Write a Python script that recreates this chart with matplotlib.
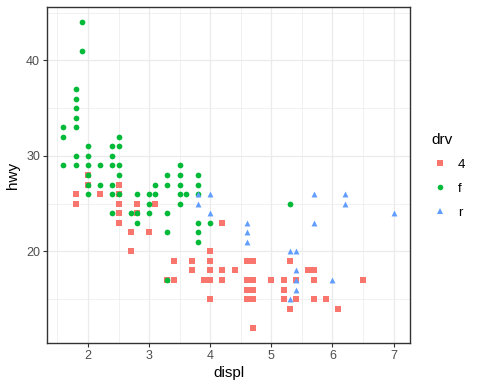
import matplotlib
matplotlib.use("Agg")
import matplotlib.pyplot as plt
from matplotlib.ticker import MultipleLocator, FixedLocator
from matplotlib.lines import Line2D

# ---- data ----
drv_levels = ["4", "f", "r"]

displ_4 = [1.8, 1.8, 2.0, 2.0, 2.2, 2.5, 2.5, 2.5, 2.5, 2.5, 2.7, 2.7, 2.8, 2.8, 3.0,
           3.1, 3.3, 3.4, 3.4, 3.7, 3.7, 3.9, 4.0, 4.0, 4.0, 4.0, 4.0, 4.2, 4.2, 4.2,
           4.4, 4.6, 4.6, 4.6, 4.6, 4.7, 4.7, 4.7, 4.7, 4.7, 5.0, 5.2, 5.2, 5.2, 5.3,
           5.3, 5.4, 5.4, 5.6, 5.7, 5.7, 5.7, 5.9, 6.1, 6.5]
hwy_4 = [26, 25, 28, 27, 26, 27, 26, 25, 24, 23, 22, 20, 25, 24, 22,
         25, 17, 19, 17, 19, 18, 17, 20, 19, 18, 17, 15, 23, 18, 17,
         18, 19, 17, 16, 15, 19, 17, 16, 15, 12, 17, 17, 16, 15, 19,
         14, 17, 15, 18, 18, 17, 15, 15, 14, 17]

displ_f = [1.6, 1.6, 1.6,
           1.8, 1.8, 1.8, 1.8, 1.8, 1.8, 1.8,
           1.9, 1.9,
           2.0, 2.0, 2.0, 2.0, 2.0, 2.0,
           2.2, 2.2,
           2.4, 2.4, 2.4, 2.4, 2.4, 2.4,
           2.5, 2.5, 2.5, 2.5, 2.5,
           2.7,
           2.8, 2.8, 2.8,
           3.0, 3.0, 3.0,
           3.1, 3.1,
           3.3, 3.3, 3.3, 3.3, 3.3,
           3.5, 3.5, 3.5, 3.5, 3.5,
           3.6,
           3.8, 3.8, 3.8, 3.8, 3.8, 3.8,
           4.0,
           5.3]
hwy_f = [33, 32, 29,
         37, 36, 35, 34, 33, 30, 29,
         44, 41,
         31, 30, 29, 28, 27, 26,
         29, 27,
         31, 30, 29, 27, 26, 24,
         32, 31, 29, 28, 26,
         24,
         26, 24, 23,
         26, 25, 24,
         27, 26,
         28, 27, 24, 22, 17,
         29, 28, 27, 26, 25,
         26,
         28, 27, 26, 23, 22, 21,
         23,
         25]

displ_r = [3.8, 3.8, 4.0, 4.0, 4.6, 4.6, 4.6, 5.3, 5.4, 5.4, 5.4, 5.4, 5.3,
           5.7, 5.7, 6.0, 6.2, 6.2, 7.0]
hwy_r = [26, 25, 26, 24, 23, 22, 21, 20, 20, 18, 17, 16, 15,
         26, 23, 17, 26, 25, 24]

x_ticks = [2, 3, 4, 5, 6, 7]
y_ticks = [20, 30, 40]

colors = {"4": "#F8766D", "f": "#00BA38", "r": "#619CFF"}
markers = {"4": "s", "f": "o", "r": "^"}
sizes = {"4": 16, "f": 17, "r": 18}

plt.rcParams['font.family'] = ['Liberation Sans', 'DejaVu Sans']

fig = plt.figure(figsize=(4.85, 3.88), dpi=100)
ax = fig.add_axes([47/485, 1 - 343/388, (410 - 47)/485, (343 - 7)/388])

series = {"4": (displ_4, hwy_4), "f": (displ_f, hwy_f), "r": (displ_r, hwy_r)}
for lvl in drv_levels:
    xs, ys = series[lvl]
    ax.scatter(xs, ys, s=sizes[lvl], marker=markers[lvl], color=colors[lvl],
               linewidths=0, zorder=3)

# limits like ggplot (5% expansion)
xmin, xmax = 1.6, 7.0
ymin, ymax = 12, 44
dx = (xmax - xmin) * 0.05
dy = (ymax - ymin) * 0.05
ax.set_xlim(xmin - dx, xmax + dx)
ax.set_ylim(ymin - dy, ymax + dy)

ax.xaxis.set_major_locator(FixedLocator(x_ticks))
ax.yaxis.set_major_locator(FixedLocator(y_ticks))
ax.xaxis.set_minor_locator(MultipleLocator(0.5))
ax.yaxis.set_minor_locator(FixedLocator([15, 25, 35, 45]))

ax.grid(which="major", color="#EBEBEB", linewidth=0.9, zorder=0)
ax.grid(which="minor", color="#EBEBEB", linewidth=0.5, zorder=0)
ax.set_axisbelow(True)

for sp in ax.spines.values():
    sp.set_color("#333333")
    sp.set_linewidth(1.0)

ax.tick_params(which="major", direction="out", length=3, width=0.8, color="#333333",
               labelcolor="#4D4D4D", labelsize=9, pad=2)
ax.tick_params(which="minor", length=0)

ax.set_xlabel("displ", fontsize=11, color="black", labelpad=3)
ax.set_ylabel("hwy", fontsize=11, color="black", labelpad=4)

handles = [Line2D([], [], linestyle="none", marker=markers[l], color=colors[l],
                  markersize=4.0 if l != "r" else 4.3, markeredgewidth=0) for l in drv_levels]
leg = fig.legend(handles, drv_levels, title="drv", loc="upper left",
                 bbox_to_anchor=(425/485, 1 - 126/388), frameon=False,
                 fontsize=9.5, title_fontsize=11, handlelength=1.2,
                 handletextpad=0.8, labelspacing=0.9, borderpad=0)
leg._legend_box.align = "left"

fig.savefig("out.png", dpi=100)
